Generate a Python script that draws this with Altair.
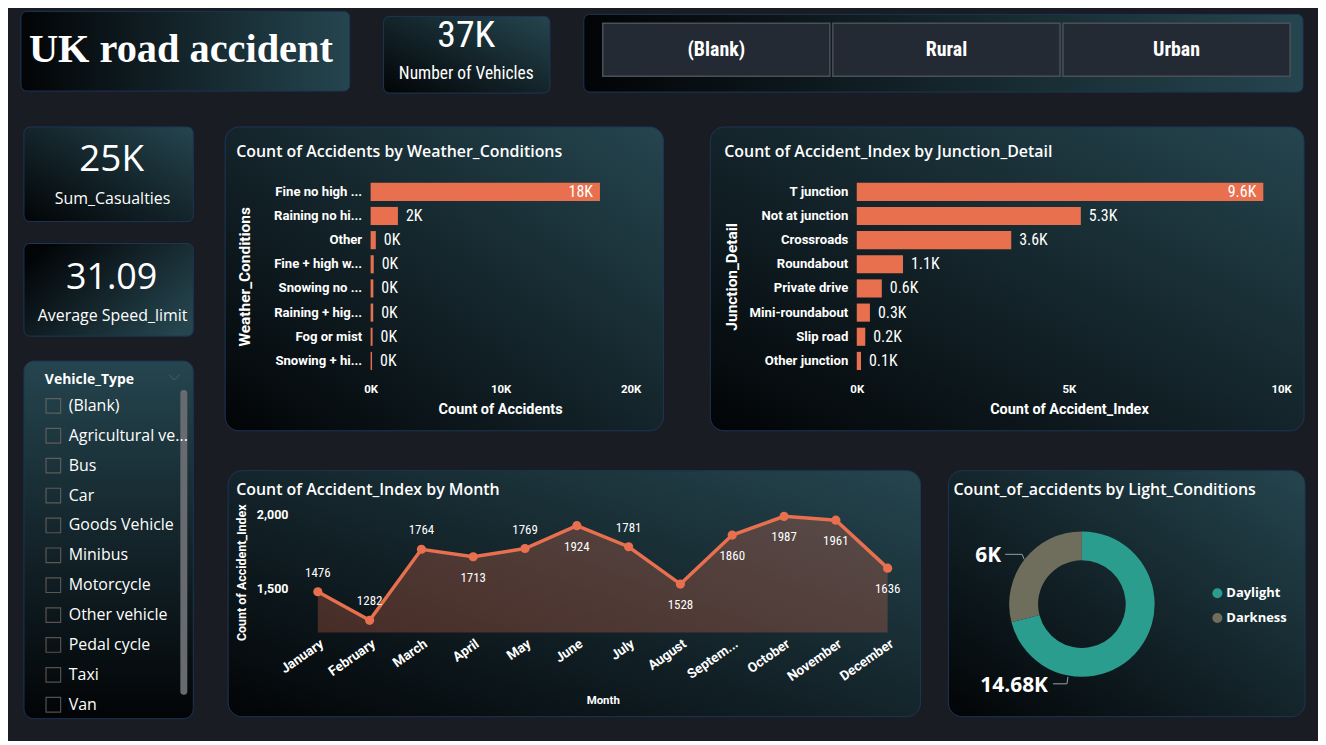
import json
import altair as alt
import pandas as pd

# ---------------- data ----------------
dashboard_title = "UK road accident"
kpi_number_of_vehicles = "37K"
kpi_number_of_vehicles_label = "Number of Vehicles"
kpi_sum_casualties = "25K"
kpi_sum_casualties_label = "Sum_Casualties"
kpi_avg_speed = "31.09"
kpi_avg_speed_label = "Average Speed_limit"

area_types = ["(Blank)", "Rural", "Urban"]

vehicle_types = ["(Blank)", "Agricultural vehicle", "Bus", "Car", "Goods Vehicle",
                 "Minibus", "Motorcycle", "Other vehicle", "Pedal cycle", "Taxi", "Van"]
vehicle_display = ["(Blank)", "Agricultural ve...", "Bus", "Car", "Goods Vehicle",
                   "Minibus", "Motorcycle", "Other vehicle", "Pedal cycle", "Taxi", "Van"]

weather_conditions = ["Fine no high winds", "Raining no high winds", "Other",
                      "Fine + high winds", "Snowing no high winds", "Raining + high winds",
                      "Fog or mist", "Snowing + high winds"]
weather_display = ["Fine no high ...", "Raining no hi...", "Other", "Fine + high w...",
                   "Snowing no ...", "Raining + hig...", "Fog or mist", "Snowing + hi..."]
weather_counts = [17640, 2100, 400, 240, 210, 200, 150, 110]

junction_details = ["T junction", "Not at junction", "Crossroads", "Roundabout",
                    "Private drive", "Mini-roundabout", "Slip road", "Other junction"]
junction_counts = [9580, 5280, 3640, 1090, 590, 310, 200, 100]

months = ["January", "February", "March", "April", "May", "June", "July",
          "August", "September", "October", "November", "December"]
month_display = ["January", "February", "March", "April", "May", "June", "July",
                 "August", "Septem...", "October", "November", "December"]
month_counts = [1476, 1282, 1764, 1713, 1769, 1924, 1781, 1528, 1860, 1987, 1961, 1636]

light_conditions = ["Daylight", "Darkness"]
light_counts = [14680, 6000]

# ---------------- style ----------------
BG = "#191c23"
CORAL = "#E8704F"
TEAL = "#2A9D8F"
GREY = "#6F6E5C"
BORDER = "#1c3555"
SEGOE = "'Open Sans', 'Noto Sans', sans-serif"
COND = "'Roboto Condensed', 'DejaVu Sans Condensed', 'Liberation Sans Narrow', Roboto, sans-serif"
AXF = "Roboto, 'Noto Sans', sans-serif"
SERIF = "'Liberation Serif', 'DejaVu Serif', serif"
TITLE_SIZE = 16
ONE = alt.InlineData(values=[{"k": 1}])

# month labels placed below the point (others above)
below_months = ["April", "June", "August", "September", "October", "November", "December"]


def lookup(keys, vals, ref="datum.label"):
    return f"{json.dumps(vals)}[indexof({json.dumps(keys)}, {ref})]"


def grad(x1, y1, x2, y2, c0="#020406", c1="#25454f"):
    return alt.LinearGradient(
        gradient="linear",
        stops=[alt.GradientStop(color=c0, offset=0), alt.GradientStop(color=c1, offset=1)],
        x1=x1, y1=y1, x2=x2, y2=y2)


def card(x1, x2, y1, y2, g, r=8):
    return alt.Chart(ONE).mark_rect(fill=g, stroke=BORDER, strokeWidth=1, cornerRadius=r).encode(
        x=alt.value(x1), x2=alt.value(x2), y=alt.value(y1), y2=alt.value(y2))


def rule(x1, y1, x2, y2, color="#9aa0a6", w=1):
    return alt.Chart(ONE).mark_rule(color=color, strokeWidth=w).encode(
        x=alt.value(x1), x2=alt.value(x2), y=alt.value(y1), y2=alt.value(y2))


def text_at(txt, x, y, size, font, weight="normal", color="white", align="center", baseline="middle"):
    return alt.Chart(alt.InlineData(values=[{"t": txt}])).mark_text(
        font=font, fontSize=size, fontWeight=weight, color=color, align=align, baseline=baseline
    ).encode(text="t:N", x=alt.value(x), y=alt.value(y))


def axis_common(**kw):
    base = dict(labelFont=AXF, labelFontWeight="bold", labelColor="white", domain=False,
                ticks=False, grid=False, labelFlush=False, titleFont=AXF, titleFontWeight="bold",
                titleColor="white", titleAlign="center", titleBaseline="middle", zindex=1)
    base.update(kw)
    return alt.Axis(**base)


# ---------------- row 1 ----------------
title_panel = alt.layer(
    card(0, 330, 0, 80, grad(0, 0.5, 1, 0.5), 6),
    text_at(dashboard_title, 8, 39, 40.5, SERIF, "bold", align="left"),
).properties(width=330, height=80)

kpi_panel = alt.layer(
    card(0, 167, 5, 82, grad(0, 1, 1, 0), 6),
    text_at(kpi_number_of_vehicles, 83, 25, 38, COND),
    text_at(kpi_number_of_vehicles_label, 83, 63, 17.5, COND),
).properties(width=167, height=82)

area_x = alt.X("area:N", sort=area_types,
               scale=alt.Scale(domain=area_types, range=[19, 709], paddingInner=0.013, paddingOuter=0),
               axis=None)
adf = pd.DataFrame({"area": area_types})
slicer_panel = alt.layer(
    card(0, 722, 3, 81, grad(0, 0.5, 1, 0.5), 6),
    alt.Chart(adf).mark_rect(fill="#232a33", stroke="#4b5058", strokeWidth=1.5).encode(
        x=area_x, y=alt.value(12), y2=alt.value(65)),
    alt.Chart(adf).mark_text(font=COND, fontSize=20, fontWeight="bold", color="white").encode(
        x=area_x, y=alt.value(39), text="area:N"),
).properties(width=722, height=81)

row1 = alt.hconcat(title_panel, kpi_panel, slicer_panel, spacing=32)

# ---------------- left column ----------------
cas_panel = alt.layer(
    card(3, 173, 0, 95, grad(0, 1, 1, 0), 6),
    text_at(kpi_sum_casualties, 91, 33, 37, SEGOE),
    text_at(kpi_sum_casualties_label, 92, 72, 16, SEGOE),
).properties(width=173, height=95)

speed_panel = alt.layer(
    card(3, 173, 0, 93, grad(0, 0.2, 1, 0.8), 6),
    text_at(kpi_avg_speed, 91, 35, 36, SEGOE),
    text_at(kpi_avg_speed_label, 92, 73, 16, SEGOE),
).properties(width=173, height=93)

vdf = pd.DataFrame({"veh": vehicle_types})
veh_y = alt.Y("veh:N", sort=vehicle_types,
              scale=alt.Scale(type="point", domain=vehicle_types, range=[45, 345], padding=0), axis=None)
vehicle_panel = alt.layer(
    card(3, 173, 0, 359, grad(0.5, 1, 0.5, 0), 10),
    text_at("Vehicle_Type", 24, 19, 14, SEGOE, "bold", align="left"),
    rule(149, 14, 154, 19, "#4e5d69"),
    rule(154, 19, 159, 14, "#4e5d69"),
    alt.Chart(ONE).mark_rect(fill="#676b6f", cornerRadius=3).encode(
        x=alt.value(160), x2=alt.value(167), y=alt.value(29), y2=alt.value(335)),
    alt.Chart(vdf).mark_square(size=215, filled=False, stroke="#7a6f66", strokeWidth=1.2).encode(
        y=veh_y, x=alt.value(32.5)),
    alt.Chart(vdf).transform_calculate(disp=lookup(vehicle_types, vehicle_display, "datum.veh")).mark_text(
        font=SEGOE, fontSize=16, color="white", align="left", baseline="middle"
    ).encode(y=veh_y, x=alt.value(48), text="disp:N"),
).properties(width=173, height=359)

left_col = alt.vconcat(alt.vconcat(cas_panel, speed_panel, spacing=20), vehicle_panel, spacing=23)


# ---------------- horizontal bar panels ----------------
def bar_panel(cats, disp, vals, title, ytitle, xtitle, dmax, ticks, fmt, W, x0, x1, title_x,
              ytitle_x, xtitle_x):
    H, y0, y1 = 305, 53, 247
    df = pd.DataFrame({"cat": cats, "count": vals})
    y = alt.Y("cat:N", sort=cats,
              scale=alt.Scale(domain=cats, range=[y0, y1], paddingInner=0.25, paddingOuter=0.125),
              axis=axis_common(title=ytitle, labelExpr=lookup(cats, disp), labelFontSize=13.2,
                               labelPadding=9, labelLimit=300, titleFontSize=15.5, titleAngle=270,
                               titleX=ytitle_x, titleY=150, offset=-x0))
    x = alt.X("count:Q", scale=alt.Scale(domain=[0, dmax], range=[x0, x1], nice=False),
              axis=axis_common(title=xtitle, values=ticks, labelExpr="datum.value/1000 + 'K'",
                               labelFontSize=11.5, labelPadding=11, titleFontSize=14.5,
                               titleX=xtitle_x, titleY=37, offset=-(H - y1)))
    lbl = f"format(datum.count/1000, '{fmt}') + 'K'"
    thr = 0.75 * dmax
    return alt.layer(
        card(0, W, 0, H, grad(0, 1, 1, 0), 14),
        text_at(title, title_x, 25, TITLE_SIZE, SEGOE, 600, align="left"),
        alt.Chart(df).mark_bar(color=CORAL).encode(y=y, x=x),
        alt.Chart(df).transform_filter(f"datum.count > {thr}").transform_calculate(lbl=lbl).mark_text(
            font=COND, fontSize=16, color="white", align="right", dx=-7).encode(y=y, x=x, text="lbl:N"),
        alt.Chart(df).transform_filter(f"datum.count <= {thr}").transform_calculate(lbl=lbl).mark_text(
            font=COND, fontSize=16, color="white", align="left", dx=8).encode(y=y, x=x, text="lbl:N"),
    ).properties(width=W, height=H)


weather_panel = bar_panel(weather_conditions, weather_display, weather_counts,
                          "Count of Accidents by Weather_Conditions", "Weather_Conditions",
                          "Count of Accidents", 20000, [0, 10000, 20000], ".0f", 440, 146, 407,
                          11, -127, 276)
junction_panel = bar_panel(junction_details, junction_details, junction_counts,
                           "Count of Accident_Index by Junction_Detail", "Junction_Detail",
                           "Count of Accident_Index", 10000, [0, 5000, 10000], ".1f", 596, 147, 573,
                           14, -126, 360)

# ---------------- month panel ----------------
MW, MH, MX0, MX1, MY_TOP, MY_BOT = 698, 247, 93, 665, 44, 162.4
mdf = pd.DataFrame({"month": months, "count": month_counts})
mx = alt.X("month:N", sort=months,
           scale=alt.Scale(type="point", padding=0, domain=months, range=[MX0, MX1]),
           axis=axis_common(title="Month", labelAngle=325, labelExpr=lookup(months, month_display),
                            labelFontSize=13.5, labelPadding=4, titleFontSize=11.5, titleX=379, titleY=68,
                            offset=-(MH - MY_BOT)))
my = alt.Y("count:Q", scale=alt.Scale(domain=[1200, 2000], range=[MY_BOT, MY_TOP], nice=False, zero=False),
           axis=axis_common(title="Count of Accident_Index", values=[1500, 2000],
                            labelExpr="format(datum.value, ',')",
                            labelFontSize=12.5, labelPadding=30, titleFontSize=12.5, titleAngle=270,
                            titleX=-77, titleY=102, offset=-MX0))
below_expr = f"indexof({json.dumps(below_months)}, datum.month) >= 0"
month_panel = alt.layer(
    card(3, MW, 0, MH, grad(0, 1, 1, 0), 14),
    text_at("Count of Accident_Index by Month", 11, 19, TITLE_SIZE, SEGOE, 600, align="left"),
    alt.Chart(mdf).mark_area(color=CORAL, opacity=0.28).encode(x=mx, y=my, y2=alt.datum(1200)),
    alt.Chart(mdf).mark_line(color=CORAL, strokeWidth=3.5).encode(x=mx, y=my),
    alt.Chart(mdf).mark_circle(color=CORAL, size=85, opacity=1).encode(x=mx, y=my),
    alt.Chart(mdf).transform_filter(f"!({below_expr})").mark_text(
        font=COND, fontSize=13, color="white", dy=-19).encode(x=mx, y=my, text="count:Q"),
    alt.Chart(mdf).transform_filter(below_expr).mark_text(
        font=COND, fontSize=13, color="white", dy=21).encode(x=mx, y=my, text="count:Q"),
).properties(width=MW, height=MH)

# ---------------- donut panel ----------------
DW, DH, CX, CY = 358, 247, 134, 134
ldf = pd.DataFrame({"cond": light_conditions, "count": light_counts})
lbl_calc = "replace(format(datum.count, '.4~s'), 'k', 'K')"
order_calc = f"indexof({json.dumps(light_conditions)}, datum.cond)"
light_color = alt.Color("cond:N", scale=alt.Scale(domain=light_conditions, range=[TEAL, GREY]), legend=None)
leg_y = alt.Y("cond:N", sort=light_conditions,
              scale=alt.Scale(type="point", domain=light_conditions, range=[123, 148], padding=0), axis=None)
donut_panel = alt.layer(
    card(0, DW, 0, DH, grad(0, 1, 1, 0), 14),
    text_at("Count_of_accidents by Light_Conditions", 5, 19, TITLE_SIZE, SEGOE, 600, align="left"),
    alt.Chart(ldf).transform_calculate(ord=order_calc).mark_arc(innerRadius=44, outerRadius=73).encode(
        theta=alt.Theta("count:Q", stack=True), color=light_color, order=alt.Order("ord:Q"),
        x=alt.value(CX), y=alt.value(CY)),
    rule(57, 84, 74, 84), rule(74, 84, 76, 89),
    rule(105, 214, 119, 214), rule(119, 214, 120, 207),
    alt.Chart(ldf).transform_filter("datum.cond == 'Darkness'").transform_calculate(lbl=lbl_calc).mark_text(
        font=SEGOE, fontSize=21, fontWeight="bold", color="white"
    ).encode(x=alt.value(40), y=alt.value(86), text="lbl:N"),
    alt.Chart(ldf).transform_filter("datum.cond == 'Daylight'").transform_calculate(lbl=lbl_calc).mark_text(
        font=SEGOE, fontSize=21, fontWeight="bold", color="white"
    ).encode(x=alt.value(66), y=alt.value(216), text="lbl:N"),
    # legend entries
    alt.Chart(ldf).mark_circle(size=100, opacity=1).encode(y=leg_y, x=alt.value(270), color=light_color),
    alt.Chart(ldf).mark_text(font=SEGOE, fontSize=13, fontWeight="bold", color="white",
                             align="left", baseline="middle").encode(
        y=leg_y, x=alt.value(279), text="cond:N"),
).properties(width=DW, height=DH)

right_area = alt.vconcat(
    alt.hconcat(weather_panel, junction_panel, spacing=45),
    alt.hconcat(month_panel, donut_panel, spacing=26),
    spacing=38,
)

row2 = alt.hconcat(left_col, right_area, spacing=30)

chart = alt.vconcat(row1, row2, spacing=32).configure_view(strokeWidth=0, fill=None).properties(
    background=BG, padding={"left": 12, "top": 1, "right": 12, "bottom": 20})

chart.save("out.html", embed_options={"renderer": "svg", "actions": False})
